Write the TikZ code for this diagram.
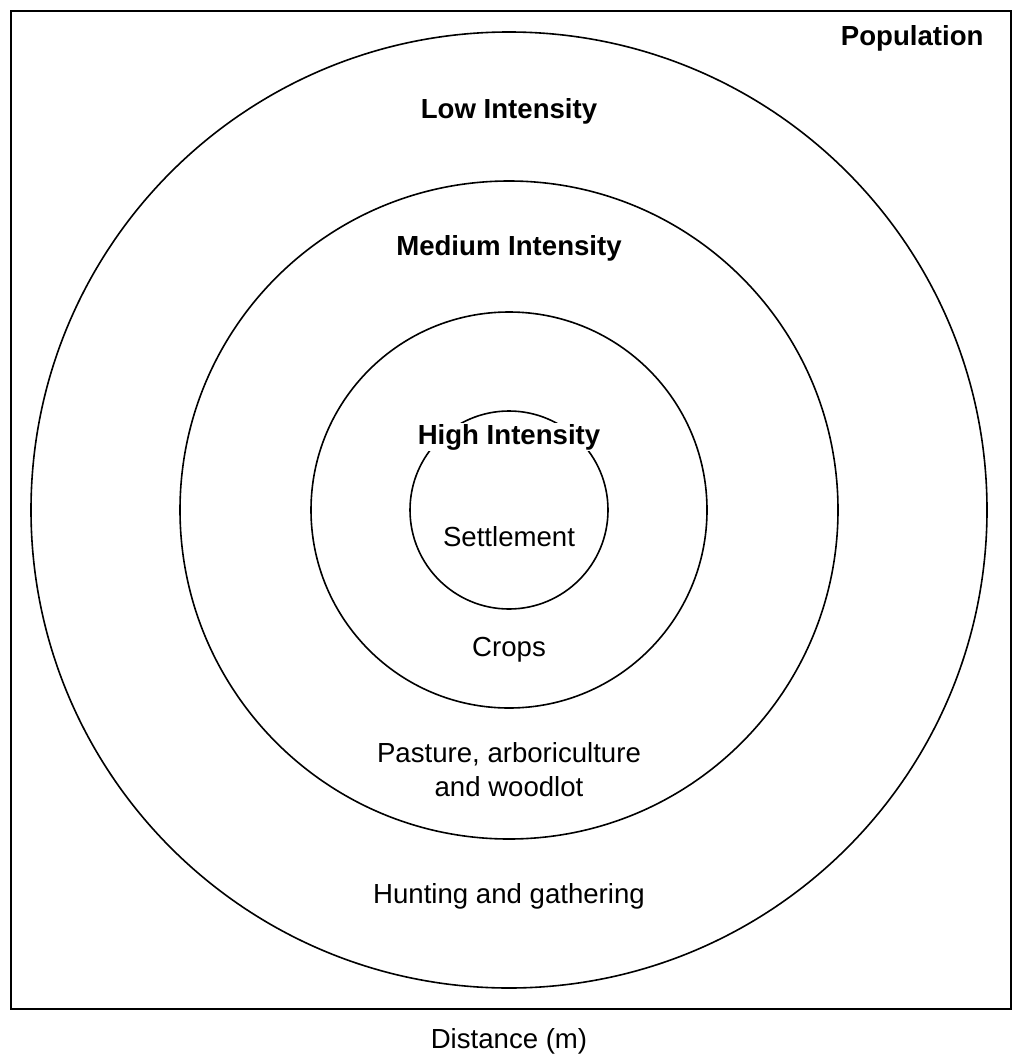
\documentclass[tikz,border=0pt]{standalone}
\usepackage{fontspec}
\setmainfont{Liberation Sans}
\begin{document}
\begin{tikzpicture}[x=1pt,y=-1pt,
  ring/.style={draw,line width=1.6pt},
  lab/.style={font=\fontsize{27.6}{34}\selectfont,align=center},
  blab/.style={font=\fontsize{27.6}{34}\selectfont\bfseries}]
\useasboundingbox (0,0) rectangle (1024,1062);
\node[draw,line width=1.6pt,minimum width=1000pt,minimum height=998pt,inner sep=0pt] (frame) at (511,510) {};
\node[ring,circle,minimum size=956pt,inner sep=0pt] (c1) at (509,510) {};
\node[ring,circle,minimum size=658pt,inner sep=0pt] (c2) at (509,510) {};
\node[ring,circle,minimum size=396pt,inner sep=0pt] (c3) at (509,510) {};
\node[ring,circle,minimum size=198pt,inner sep=0pt] (c4) at (509,510) {};
\node[blab,anchor=east] (pop) at (987,38) {Population};
\node[blab] (low) at (509,111) {Low Intensity};
\node[blab] (med) at (509,248) {Medium Intensity};
\node[blab,fill=white,inner sep=1pt] (high) at (509,437) {High Intensity};
\node[lab] (set) at (509,537) {Settlement};
\node[lab] (crops) at (509,650) {Crops};
\node[lab] (past) at (509,770) {Pasture, arboriculture\\and woodlot};
\node[lab] (hunt) at (509,896) {Hunting and gathering};
\node[lab] (dist) at (509,1041) {Distance (m)};
\end{tikzpicture}
\end{document}
